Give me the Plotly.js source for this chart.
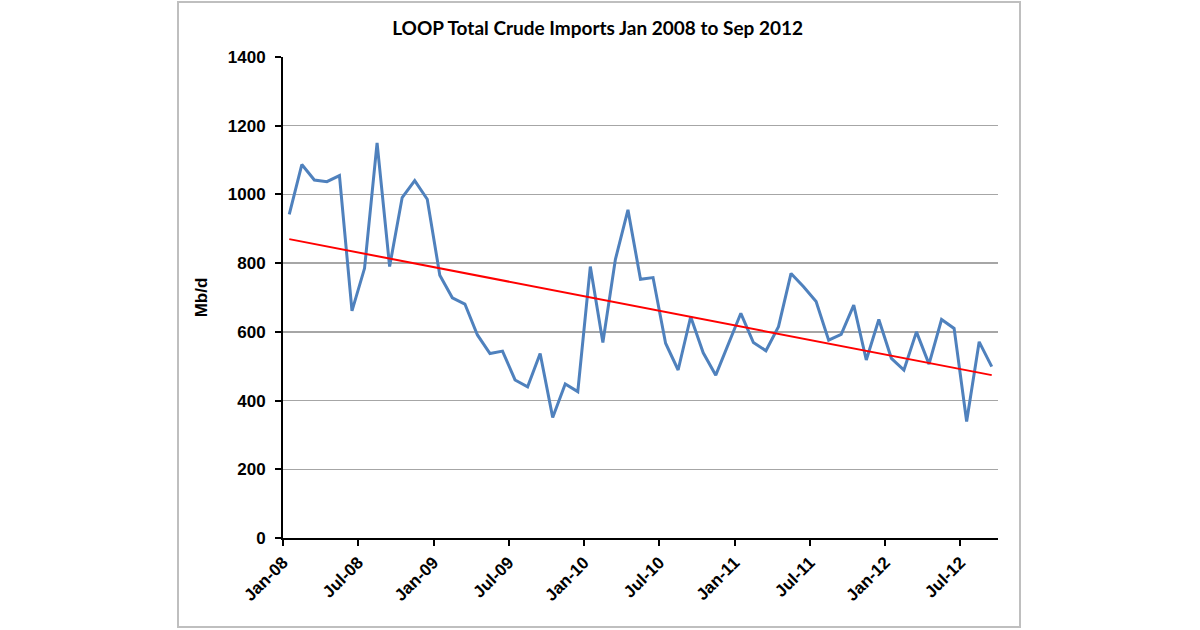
<!DOCTYPE html>
<html><head><meta charset="utf-8">
<script src="https://cdn.plot.ly/plotly-3.0.1.min.js"></script>
<style>html,body{margin:0;padding:0;background:#fff;}#chart{width:1200px;height:630px;}</style>
</head><body><div id="chart"></div>
<script>
const months = ['Jan-08','Feb-08','Mar-08','Apr-08','May-08','Jun-08','Jul-08','Aug-08','Sep-08','Oct-08','Nov-08','Dec-08',
'Jan-09','Feb-09','Mar-09','Apr-09','May-09','Jun-09','Jul-09','Aug-09','Sep-09','Oct-09','Nov-09','Dec-09',
'Jan-10','Feb-10','Mar-10','Apr-10','May-10','Jun-10','Jul-10','Aug-10','Sep-10','Oct-10','Nov-10','Dec-10',
'Jan-11','Feb-11','Mar-11','Apr-11','May-11','Jun-11','Jul-11','Aug-11','Sep-11','Oct-11','Nov-11','Dec-11',
'Jan-12','Feb-12','Mar-12','Apr-12','May-12','Jun-12','Jul-12','Aug-12','Sep-12'];
const imports = [942,1087,1042,1037,1055,661,785,1150,790,991,1040,986,
765,699,681,591,537,544,460,440,537,351,448,426,
790,569,811,955,753,758,567,489,644,539,474,562,
654,569,545,615,770,731,688,576,593,678,518,636,
523,489,600,506,636,610,339,571,499];
const tickLabels = ['Jan-08','Jul-08','Jan-09','Jul-09','Jan-10','Jul-10','Jan-11','Jul-11','Jan-12','Jul-12'];
const yTicks = [0,200,400,600,800,1000,1200,1400];

// x positions: month index (points sit mid-month between tick marks)
const xs = months.map((m,i)=>i);
const tickVals = tickLabels.map(l => months.indexOf(l) - 0.5);

// linear trend line (least squares) from the data
const n = xs.length;
const mx = xs.reduce((a,b)=>a+b,0)/n, my = imports.reduce((a,b)=>a+b,0)/n;
let sxy=0, sxx=0;
for (let i=0;i<n;i++){ sxy += (xs[i]-mx)*(imports[i]-my); sxx += (xs[i]-mx)**2; }
const slope = sxy/sxx, icpt = my - slope*mx;
const trendX = [xs[0], xs[n-1]];
const trendY = trendX.map(x => icpt + slope*x);

const boldArial = (s) => ({family:'Liberation Sans, Arial, sans-serif', size:s, color:'#000', weight:'bold'});

const data = [
  {x: xs, y: imports, type:'scatter', mode:'lines', line:{color:'#4f81bd', width:3}, hoverinfo:'y'},
  {x: trendX, y: trendY, type:'scatter', mode:'lines', line:{color:'#ff0000', width:2}, hoverinfo:'skip'}
];

const layout = {
  width:1200, height:630,
  margin:{l:283, r:202, t:57, b:92},
  paper_bgcolor:'#fff', plot_bgcolor:'#fff',
  showlegend:false,
  title:{text:'LOOP Total Crude Imports Jan 2008 to Sep 2012', x:0.498, xanchor:'center', y:0.955, yanchor:'middle',
         font:{family:'Lato, Open Sans, sans-serif', size:19, color:'#000', weight:'bold'}},
  xaxis:{
    range:[-0.5, 56.5], tickmode:'array', tickvals:tickVals, ticktext:tickLabels,
    tickangle:-45, tickfont:boldArial(17),
    showgrid:false, zeroline:false, showline:true, linecolor:'#000', linewidth:2,
    ticks:'outside', ticklen:6, tickwidth:2, tickcolor:'#000', fixedrange:true
  },
  yaxis:{
    range:[0,1400], tickmode:'array', tickvals:yTicks, ticktext:yTicks.map(String),
    tickfont:boldArial(17), showgrid:true, gridcolor:'#a6a6a6', gridwidth:1.5,
    zeroline:false, showline:true, linecolor:'#000', linewidth:2,
    ticks:'outside', ticklen:6, tickwidth:2, tickcolor:'#000', ticklabelstandoff:6,
    title:{text:'Mb/d', font:boldArial(17), standoff:16},
    fixedrange:true
  },
  shapes:[{type:'rect', xref:'paper', yref:'paper', x0:(178-283)/715, x1:(1020-283)/715, y0:(538-627)/481, y1:(538-2)/481,
           line:{color:'#bfbfbf', width:2}, fillcolor:'rgba(0,0,0,0)', layer:'below'}]
};
Plotly.newPlot('chart', data, layout, {displayModeBar:false, staticPlot:true});
</script></body></html>
